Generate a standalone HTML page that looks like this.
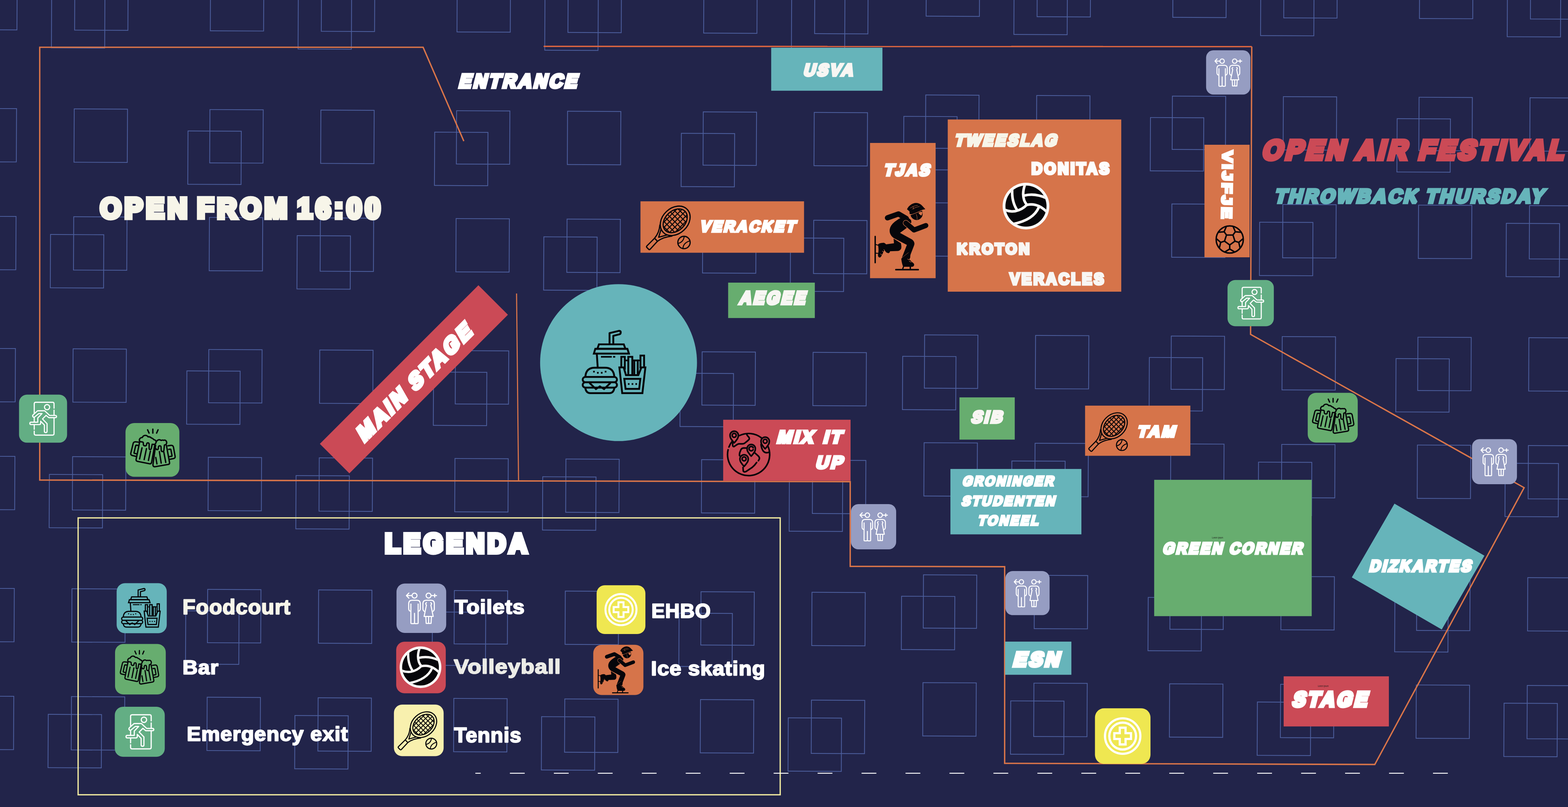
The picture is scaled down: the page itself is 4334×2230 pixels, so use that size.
<!DOCTYPE html>
<html lang="nl"><head><meta charset="utf-8"><title>Open Air Festival - Throwback Thursday</title>
<style>html,body{margin:0;padding:0;background:#22244a;}body{width:4334px;height:2230px;overflow:hidden;}svg{display:block;will-change:transform;}text{white-space:pre;}</style>
</head><body>
<svg width="4334" height="2230" viewBox="0 0 4334 2230">
<rect width="4334" height="2230" fill="#22244a"/>
<defs><symbol id="ic-toilets" viewBox="19 18.6 62.3 63.1" preserveAspectRatio="none" overflow="visible"><g fill="none" stroke="#ffffff" stroke-width="2.2" stroke-linecap="round" stroke-linejoin="round"><circle cx="36.3" cy="24.5" r="5"/><path d="M31.3,24.5 H20.2 M25,19.3 L20,24.5 L25,29.7"/><path d="M29,80 L29,41.5 M29,56.5 Q24.6,55.5 24.6,51 L24.6,41 Q24.6,33.9 31.5,33.9 L41,33.9 Q47.9,33.9 47.9,41 L47.9,51 Q47.9,55.5 43.6,56.5 M43.6,41.5 L43.6,80 Q43.6,81.3 41.5,81.3 L38.5,81.3 Q36.3,81.3 36.3,79.5 L36.3,60.3 M36.3,79.5 Q36.3,81.3 34,81.3 L31,81.3 Q29,81.3 29,80"/><circle cx="64.6" cy="24.5" r="5"/><path d="M69.6,24.5 H80.6 M76.9,21.4 V27.6"/><path d="M56.5,56.5 Q53.2,55 53.2,51 L53.2,41 Q53.2,33.9 60,33.9 L69.3,33.9 Q76.2,33.9 76.2,41 L76.2,51 Q76.2,55 73,56.5"/><path d="M60.4,38.8 Q57.3,40.5 60.3,43.7 L55.6,66.8 L73.9,66.8 L69.2,43.7 Q72.2,40.5 69,38.8"/><path d="M59,67 L59.8,80.8 L69.6,80.8 L70.4,67 M64.7,67 V80.8"/></g></symbol><symbol id="ic-exit" viewBox="21.8 14.8 56.3 70.5" preserveAspectRatio="none" overflow="visible"><g fill="none" stroke="#ffffff" stroke-width="2.35" stroke-linecap="round" stroke-linejoin="round"><path d="M31.6,39.5 V19 Q31.6,15.9 34.7,15.9 H69.7 Q72.8,15.9 72.8,19 V28.2 M72.8,32.2 V42.5 M72.8,48.5 V81 Q72.8,84.2 69.7,84.2 H34.7 Q31.6,84.2 31.6,81 V75.8 M31.6,72 V62.5 M31.6,57 V47.5"/><circle cx="58.3" cy="26" r="5.4"/><path d="M29.2,42 L38.5,33.6 H53.3 L63.8,43.3 H75.5 Q78,43.3 78,45.6 Q78,47.9 75.5,47.9 H62 L56.2,43.2 L48.8,50.6 L58.3,60.4 V76.5 Q58.3,79 55.5,79 Q52.7,79 52.7,76.5 V63.2 L45,55.3 V59.5 Q45,62.3 42,62.3 H25 Q22.5,62.3 22.5,59.8 Q22.5,57.3 25,57.3 H39 V48.5 L47.8,39.3 H41.2 L32.5,46.4 Q30.5,47.8 28.9,46 Q27.5,44 29.2,42 Z"/></g></symbol><symbol id="ic-bar" viewBox="0 0 1491 1325" preserveAspectRatio="none" overflow="visible"><g fill="none" stroke="#06060a" stroke-width="42" stroke-linecap="round" stroke-linejoin="round"><path d="M585,85 L630,185 M745,65 V185 M905,85 L860,185"/><path d="M340,465 L235,985 Q225,1035 275,1047 L650,1122 Q695,1130 707,1080 L802,560"/><path d="M318,462 L215,452 Q155,450 142,510 L72,800 Q62,855 115,868 L232,895"/><path d="M290,560 L245,555 Q225,555 220,575 L172,780 Q168,800 190,805 L248,817"/><path d="M345,440 Q320,400 345,360 Q370,320 425,318 Q450,255 515,255 Q570,255 600,300 Q660,290 700,335 Q750,345 775,385 Q840,395 845,450 Q845,500 800,530 Q760,530 725,525 L700,650 Q690,690 660,688 Q632,685 632,650 L632,525 Q630,485 595,482 Q560,485 556,520 L552,545 Q540,580 500,575 Q458,568 455,530 L455,490 Q455,462 420,455 Q380,455 345,440 Z"/><path d="M415,635 L340,975 M550,660 L480,995 M670,735 L610,1020"/><path d="M830,555 L748,1150 Q745,1205 800,1212 L1215,1142 Q1262,1130 1255,1085 L1160,560"/><path d="M1205,572 L1300,560 Q1360,555 1375,615 L1425,895 Q1432,950 1380,962 L1265,985"/><path d="M1228,682 L1272,676 Q1292,675 1297,695 L1330,870 Q1333,890 1312,893 L1255,902"/><path d="M850,455 Q870,400 930,388 Q970,385 1000,410 Q1040,390 1075,405 Q1125,385 1155,430 Q1185,480 1145,535 L1098,550 L1082,715 Q1078,750 1042,750 Q1005,748 1002,715 L995,605 Q990,572 955,572 Q920,575 916,605 L912,655 Q908,690 875,690 Q845,688 838,655"/><path d="M945,750 L1000,1100 M1080,765 L1140,1080 M835,930 L870,1125"/></g></symbol><symbol id="ic-food" viewBox="0 0 100 99.8" preserveAspectRatio="none" overflow="visible"><g fill="none" stroke="#06060a" stroke-width="2.9" stroke-linejoin="miter" stroke-linecap="butt"><path d="M43,21.2 V5.2 L57.6,1.6 Q60.3,1.6 60.3,4.2 Q60.3,6.4 58.3,7 L48.8,9.4 V21.2" stroke-linejoin="round"/><path d="M26.6,22.6 H65 L67.6,29.5 H24.2 Z"/><path d="M21,29.5 H70.6 L73,37 H18.8 Z"/><path d="M23.3,37 L24.7,58.5"/><path d="M29.7,42 H46.5 M48.4,42 H51.8" stroke-width="2.6"/><path d="M5.6,73.2 Q6.5,58.9 20,58.9 H36 Q49.500,58.9 50.4,73.2"/><path d="M17.6,65 H20.2 M23.6,66.8 H26.2 M29.6,66.8 H32.2 M35.600,65 H38.2" stroke-width="2.6"/><rect x="1.500" y="73.2" width="53" height="8.3" rx="4.15"/><rect x="1.500" y="81.5" width="53" height="8.3" rx="4.15"/><path d="M12,82.5 L22,92 L28,88 L34.500,92 L44.500,82.5" /><path d="M5.500,89.8 Q6.5,98.4 13.500,98.4 H42.500 Q49.500,98.4 50.500,89.8"/><path d="M64.8,58.4 H58.2 L62.6,98.4 H93.800 L98.400,58.4 H92.3 L87.500,70.4 H68.4 Z"/><path d="M65.8,76.2 H90.6 L88.8,91.8 H67.8 Z"/><path d="M71.400,84.2 H73.900 M77.200,84.2 H79.700 M83.000,84.2 H85.500" stroke-width="2.6"/><path d="M61.2,58 V42 H66.600 V62"/><path d="M72,69 V42 H78.2 V69"/><path d="M81.200,69 V47.600 H86.600 V69"/><path d="M90.800,60 V40 H96.400 V58"/><path d="M66.600,47.600 H72 M78.2,47.600 H81.200 M86.600,47.600 H90.800" stroke-width="2.4"/></g></symbol><symbol id="ic-tennis" viewBox="0 0 100 100" preserveAspectRatio="none" overflow="visible"><defs><clipPath id="tn-clip"><ellipse cx="0" cy="0" rx="30.7" ry="22.2"/></clipPath></defs><g fill="none" stroke="#06060a" stroke-width="2.7" stroke-linecap="round" stroke-linejoin="round"><g transform="translate(65.2,34.2) rotate(-43.5)"><ellipse cx="0" cy="0" rx="30.7" ry="22.2"/><g clip-path="url(#tn-clip)" stroke-width="2.2"><g transform="rotate(88.5)"><path d="M-40,-31.80 H40"/><path d="M-40,-23.35 H40"/><path d="M-40,-14.90 H40"/><path d="M-40,-6.45 H40"/><path d="M-40,2.00 H40"/><path d="M-40,10.45 H40"/><path d="M-40,18.90 H40"/><path d="M-40,27.35 H40"/><path d="M-40,35.80 H40"/></g><g transform="rotate(-1.5)"><path d="M-40,-32.80 H40"/><path d="M-40,-24.35 H40"/><path d="M-40,-15.90 H40"/><path d="M-40,-7.45 H40"/><path d="M-40,1.00 H40"/><path d="M-40,9.45 H40"/><path d="M-40,17.90 H40"/><path d="M-40,26.35 H40"/><path d="M-40,34.80 H40"/></g></g><ellipse cx="0" cy="0" rx="37.2" ry="28.6"/></g><path d="M33.6,52.6 L28.2,71 L46.6,65.9"/><path d="M30.9,43.5 Q29.5,61 19,73.200"/><path d="M58,68.3 Q38,70.500 25.500,80"/><path d="M19,73.200 L1.700,90.500 Q0.300,92.300 1.700,93.800 L5.800,98 Q7.300,99.300 9,98 L25.500,80"/><path d="M19,73.200 L25.500,80"/><circle cx="84.900" cy="82.700" r="13.800"/><path d="M71.300,84.800 Q83.500,82.500 85.500,69" stroke-width="2.3"/><path d="M82.500,96.200 Q83,84 97.600,79.200" stroke-width="2.3"/></g></symbol><symbol id="ic-volley" viewBox="0 0 100 100" preserveAspectRatio="none" overflow="visible"><defs><clipPath id="vb-clip"><circle cx="50" cy="50" r="44"/></clipPath></defs><circle cx="50" cy="50" r="50" fill="#fcfaf8"/><circle cx="50" cy="50" r="44" fill="#06060a"/><g clip-path="url(#vb-clip)" fill="none" stroke="#fcfaf8" stroke-width="5.6" stroke-linecap="butt"><path d="M48.500,2 Q41,22 46,37 Q48.500,43.500 52,47"/><path d="M20.500,14 Q19,40 31,58.500"/><path d="M52,47 Q42,58 26.500,61 Q14,62.500 2,57"/><path d="M46,27.500 Q70,21.500 96,34"/><path d="M52,47.500 Q76,42 97,65"/><path d="M77.500,52.500 Q66,80 22,88.500"/></g></symbol><symbol id="ic-football" viewBox="0 0 100 100" preserveAspectRatio="none" overflow="visible"><g fill="none" stroke="#06060a" stroke-width="5" stroke-linejoin="round" stroke-linecap="round"><circle cx="50" cy="50" r="47"/><path d="M61.2,34.6 L68.1,55.9 L50.0,69.0 L31.9,55.9 L38.8,34.6 Z"/><path d="M61.2,34.6 L69.4,23.3"/><path d="M69.4,23.3 L61.9,5.6"/><path d="M69.4,23.3 L88.6,24.9"/><path d="M68.1,55.9 L81.4,60.2"/><path d="M81.4,60.2 L95.9,47.6"/><path d="M81.4,60.2 L85.7,78.9"/><path d="M50.0,69.0 L50.0,83.0"/><path d="M50.0,83.0 L66.5,92.9"/><path d="M50.0,83.0 L33.5,92.9"/><path d="M31.9,55.9 L18.6,60.2"/><path d="M18.6,60.2 L14.3,78.9"/><path d="M18.6,60.2 L4.1,47.6"/><path d="M38.8,34.6 L30.6,23.3"/><path d="M30.6,23.3 L11.4,24.9"/><path d="M30.6,23.3 L38.1,5.6"/></g></symbol><symbol id="ic-ehbo" viewBox="-1 -1 102 102" preserveAspectRatio="none" overflow="visible"><g fill="none" stroke="#ffffff" stroke-width="6"><circle cx="50" cy="50" r="48"/><circle cx="50" cy="50" r="36.3"/><path d="M42.15,27.4 H57.85 V42.15 H72.6 V57.85 H57.85 V72.6 H42.15 V57.85 H27.4 V42.15 H42.15 Z"/></g></symbol><symbol id="ic-skater" viewBox="0 0 1073 1325" preserveAspectRatio="none" overflow="visible"><g fill="#06060a" stroke="none"><path d="M613,180 Q625,140 670,105 Q720,68 775,68 Q830,70 875,115 L932,176 L880,188 Q800,225 705,268 L658,262 L655,215 Z"/><path d="M672,282 Q760,250 872,200 Q895,250 878,300 Q850,360 780,368 Q700,360 672,282 Z"/></g><path d="M812,240 Q850,215 878,225 Q885,260 862,288 Q830,275 812,240 Z" fill="#d6744a"/><path d="M668,278 Q770,245 875,198 M772,262 Q795,310 788,362 M668,160 Q720,120 800,110 M700,178 Q750,145 830,130 M716,130 L730,180" fill="none" stroke="#d6744a" stroke-width="6"/><g fill="none" stroke="#06060a" stroke-linecap="round" stroke-linejoin="round"><path d="M272,328 L465,260 L600,340" stroke-width="92"/></g><path d="M470,345 L560,305 Q640,320 680,365 Q700,410 670,440 L600,510 L490,590 L700,705 Q760,750 735,810 L665,990 L520,1030 L610,800 L380,680 Q300,620 310,530 Q320,460 400,395 Z" fill="#06060a"/><path d="M378,690 L505,770 Q520,830 510,865 Q495,900 455,905 L320,910 L245,790 L385,772 Z" fill="#06060a"/><path d="M592,418 L735,540 L940,462" fill="none" stroke="#d6744a" stroke-width="104" stroke-linecap="round" stroke-linejoin="round"/><path d="M592,418 L735,540 L940,462" fill="none" stroke="#06060a" stroke-width="88" stroke-linecap="round" stroke-linejoin="round"/><g fill="#06060a" stroke="none"><path d="M512,1040 L640,938 Q665,935 672,960 L668,1020 L652,1052 L700,1100 Q745,1125 735,1160 Q720,1185 690,1182 L545,1182 Q520,1120 512,1040 Z"/><path d="M540,1178 L562,1178 L548,1222 L524,1222 Z M658,1178 L682,1178 L682,1222 L658,1222 Z"/><rect x="405" y="1218" width="416" height="27" rx="12"/><path d="M105,795 Q120,772 160,766 L205,762 Q235,770 250,795 L320,890 Q318,940 285,945 L250,930 L218,890 L165,995 Q140,1035 115,1010 Q100,990 108,950 Q125,880 105,795 Z"/><path d="M62,782 L110,798 L108,812 L62,800 Z M62,935 L112,940 L112,955 L62,952 Z"/><rect x="45" y="640" width="24" height="482" rx="11"/></g><path d="M150,955 L182,982 M178,905 L210,930 M205,880 L222,893 M622,1045 L655,1065 M648,1085 L690,1102" stroke="#d6744a" stroke-width="8" fill="none"/><path d="M518,1028 L640,932" stroke="#d6744a" stroke-width="5" fill="none"/></symbol><symbol id="ic-globe" viewBox="0 0 1279 1325" preserveAspectRatio="none" overflow="visible"><g fill="none" stroke="#06060a" stroke-width="40" stroke-linecap="round" stroke-linejoin="round"><path d="M400.5,216.0 A532,532 0 0 1 950.7,269.0 M1122.1,488.0 A532,532 0 1 1 114.1,573.5 M135.3,504.3 A532,532 0 0 1 215.1,364.5"/><path d="M585,185 Q592,210 615,232 Q660,275 648,305 Q640,325 530,410 Q505,425 470,425 L385,425 Q350,432 270,490 Q230,505 230,460 L230,400"/><path d="M565,530 L500,530 Q462,534 440,568 L410,640 Q395,690 405,725"/><path d="M790,655 L878,733 Q915,770 902,808 L880,850"/><path d="M835,895 Q790,962 722,1020 L572,1120 Q520,1150 497,1112 L490,1020"/><path d="M945,440 Q955,540 1000,605 Q1060,675 1150,635"/><path d="M268,400 Q228,360 183,290 Q163,255 163,210 A105,105 0 1 1 373,210 Q373,255 353,290 Q308,360 268,400 Z" fill="#cb4a56"/><circle cx="268" cy="210" r="50"/><path d="M1050,550 Q1010,510 965,440 Q945,405 945,360 A105,105 0 1 1 1155,360 Q1155,405 1135,440 Q1090,510 1050,550 Z" fill="#cb4a56"/><circle cx="1050" cy="360" r="50"/><path d="M698,735 Q658,695 613,625 Q593,590 593,545 A105,105 0 1 1 803,545 Q803,590 783,625 Q738,695 698,735 Z" fill="#cb4a56"/><path d="M748,523 A55,55 0 1 0 748,570"/><path d="M518,995 Q478,955 433,885 Q413,850 413,805 A105,105 0 1 1 623,805 Q623,850 603,885 Q558,955 518,995 Z" fill="#cb4a56"/><circle cx="518" cy="805" r="50"/></g></symbol></defs>
<clipPath id="cl1"><rect x="0" y="0" width="2450" height="2230"/></clipPath>
<g clip-path="url(#cl1)"><g transform="translate(0,0) rotate(0.27)" fill="none" stroke="#4d5f9e" stroke-width="2.2">
<rect x="-100.1" y="-65.0" width="147.3" height="147.3"/>
<rect x="-100.1" y="300.0" width="147.3" height="147.3"/>
<rect x="-160.4" y="359.5" width="147.3" height="147.3"/>
<rect x="-100.1" y="598.0" width="147.3" height="147.3"/>
<rect x="-100.1" y="963.0" width="147.3" height="147.3"/>
<rect x="-160.4" y="1022.5" width="147.3" height="147.3"/>
<rect x="-100.1" y="1261.0" width="147.3" height="147.3"/>
<rect x="-100.1" y="1626.0" width="147.3" height="147.3"/>
<rect x="-160.4" y="1685.5" width="147.3" height="147.3"/>
<rect x="-100.1" y="1924.0" width="147.3" height="147.3"/>
<rect x="206.6" y="-65.0" width="147.3" height="147.3"/>
<rect x="581.7" y="-65.0" width="147.3" height="147.3"/>
<rect x="142.7" y="-15.7" width="147.3" height="147.3"/>
<rect x="206.6" y="300.0" width="147.3" height="147.3"/>
<rect x="581.7" y="300.0" width="147.3" height="147.3"/>
<rect x="521.4" y="359.5" width="147.3" height="147.3"/>
<rect x="206.6" y="598.0" width="147.3" height="147.3"/>
<rect x="581.7" y="598.0" width="147.3" height="147.3"/>
<rect x="142.7" y="647.3" width="147.3" height="147.3"/>
<rect x="206.6" y="963.0" width="147.3" height="147.3"/>
<rect x="581.7" y="963.0" width="147.3" height="147.3"/>
<rect x="521.4" y="1022.5" width="147.3" height="147.3"/>
<rect x="206.6" y="1261.0" width="147.3" height="147.3"/>
<rect x="581.7" y="1261.0" width="147.3" height="147.3"/>
<rect x="142.7" y="1310.3" width="147.3" height="147.3"/>
<rect x="206.6" y="1626.0" width="147.3" height="147.3"/>
<rect x="581.7" y="1626.0" width="147.3" height="147.3"/>
<rect x="521.4" y="1685.5" width="147.3" height="147.3"/>
<rect x="206.6" y="1924.0" width="147.3" height="147.3"/>
<rect x="581.7" y="1924.0" width="147.3" height="147.3"/>
<rect x="142.7" y="1973.3" width="147.3" height="147.3"/>
<rect x="888.4" y="-65.0" width="147.3" height="147.3"/>
<rect x="1263.5" y="-65.0" width="147.3" height="147.3"/>
<rect x="824.5" y="-15.7" width="147.3" height="147.3"/>
<rect x="888.4" y="300.0" width="147.3" height="147.3"/>
<rect x="1263.5" y="300.0" width="147.3" height="147.3"/>
<rect x="1203.2" y="359.5" width="147.3" height="147.3"/>
<rect x="888.4" y="598.0" width="147.3" height="147.3"/>
<rect x="1263.5" y="598.0" width="147.3" height="147.3"/>
<rect x="824.5" y="647.3" width="147.3" height="147.3"/>
<rect x="888.4" y="963.0" width="147.3" height="147.3"/>
<rect x="1263.5" y="963.0" width="147.3" height="147.3"/>
<rect x="1203.2" y="1022.5" width="147.3" height="147.3"/>
<rect x="888.4" y="1261.0" width="147.3" height="147.3"/>
<rect x="1263.5" y="1261.0" width="147.3" height="147.3"/>
<rect x="824.5" y="1310.3" width="147.3" height="147.3"/>
<rect x="888.4" y="1626.0" width="147.3" height="147.3"/>
<rect x="1263.5" y="1626.0" width="147.3" height="147.3"/>
<rect x="1203.2" y="1685.5" width="147.3" height="147.3"/>
<rect x="888.4" y="1924.0" width="147.3" height="147.3"/>
<rect x="1263.5" y="1924.0" width="147.3" height="147.3"/>
<rect x="824.5" y="1973.3" width="147.3" height="147.3"/>
<rect x="1570.2" y="-65.0" width="147.3" height="147.3"/>
<rect x="1945.3" y="-65.0" width="147.3" height="147.3"/>
<rect x="1506.3" y="-15.7" width="147.3" height="147.3"/>
<rect x="1570.2" y="300.0" width="147.3" height="147.3"/>
<rect x="1945.3" y="300.0" width="147.3" height="147.3"/>
<rect x="1885.0" y="359.5" width="147.3" height="147.3"/>
<rect x="1570.2" y="598.0" width="147.3" height="147.3"/>
<rect x="1945.3" y="598.0" width="147.3" height="147.3"/>
<rect x="1506.3" y="647.3" width="147.3" height="147.3"/>
<rect x="1570.2" y="963.0" width="147.3" height="147.3"/>
<rect x="1945.3" y="963.0" width="147.3" height="147.3"/>
<rect x="1885.0" y="1022.5" width="147.3" height="147.3"/>
<rect x="1570.2" y="1261.0" width="147.3" height="147.3"/>
<rect x="1945.3" y="1261.0" width="147.3" height="147.3"/>
<rect x="1506.3" y="1310.3" width="147.3" height="147.3"/>
<rect x="1570.2" y="1626.0" width="147.3" height="147.3"/>
<rect x="1945.3" y="1626.0" width="147.3" height="147.3"/>
<rect x="1885.0" y="1685.5" width="147.3" height="147.3"/>
<rect x="1570.2" y="1924.0" width="147.3" height="147.3"/>
<rect x="1945.3" y="1924.0" width="147.3" height="147.3"/>
<rect x="1506.3" y="1973.3" width="147.3" height="147.3"/>
<rect x="2252.0" y="-65.0" width="147.3" height="147.3"/>
<rect x="2188.1" y="-15.7" width="147.3" height="147.3"/>
<rect x="2252.0" y="300.0" width="147.3" height="147.3"/>
<rect x="2252.0" y="598.0" width="147.3" height="147.3"/>
<rect x="2188.1" y="647.3" width="147.3" height="147.3"/>
<rect x="2252.0" y="963.0" width="147.3" height="147.3"/>
<rect x="2252.0" y="1261.0" width="147.3" height="147.3"/>
<rect x="2188.1" y="1310.3" width="147.3" height="147.3"/>
<rect x="2252.0" y="1626.0" width="147.3" height="147.3"/>
<rect x="2252.0" y="1924.0" width="147.3" height="147.3"/>
<rect x="2188.1" y="1973.3" width="147.3" height="147.3"/>
</g></g>
<clipPath id="cl2"><rect x="2450" y="0" width="1884" height="2230"/></clipPath>
<g clip-path="url(#cl2)"><g transform="translate(1978.5,-40.4) rotate(0.27)" fill="none" stroke="#4d5f9e" stroke-width="2.2">
<rect x="581.7" y="-65.0" width="147.3" height="147.3"/>
<rect x="581.7" y="300.0" width="147.3" height="147.3"/>
<rect x="521.4" y="359.5" width="147.3" height="147.3"/>
<rect x="581.7" y="598.0" width="147.3" height="147.3"/>
<rect x="581.7" y="963.0" width="147.3" height="147.3"/>
<rect x="521.4" y="1022.5" width="147.3" height="147.3"/>
<rect x="581.7" y="1261.0" width="147.3" height="147.3"/>
<rect x="581.7" y="1626.0" width="147.3" height="147.3"/>
<rect x="521.4" y="1685.5" width="147.3" height="147.3"/>
<rect x="581.7" y="1924.0" width="147.3" height="147.3"/>
<rect x="581.7" y="2289.0" width="147.3" height="147.3"/>
<rect x="888.4" y="-65.0" width="147.3" height="147.3"/>
<rect x="1263.5" y="-65.0" width="147.3" height="147.3"/>
<rect x="824.5" y="-15.7" width="147.3" height="147.3"/>
<rect x="888.4" y="300.0" width="147.3" height="147.3"/>
<rect x="1263.5" y="300.0" width="147.3" height="147.3"/>
<rect x="1203.2" y="359.5" width="147.3" height="147.3"/>
<rect x="888.4" y="598.0" width="147.3" height="147.3"/>
<rect x="1263.5" y="598.0" width="147.3" height="147.3"/>
<rect x="824.5" y="647.3" width="147.3" height="147.3"/>
<rect x="888.4" y="963.0" width="147.3" height="147.3"/>
<rect x="1263.5" y="963.0" width="147.3" height="147.3"/>
<rect x="1203.2" y="1022.5" width="147.3" height="147.3"/>
<rect x="888.4" y="1261.0" width="147.3" height="147.3"/>
<rect x="1263.5" y="1261.0" width="147.3" height="147.3"/>
<rect x="824.5" y="1310.3" width="147.3" height="147.3"/>
<rect x="888.4" y="1626.0" width="147.3" height="147.3"/>
<rect x="1263.5" y="1626.0" width="147.3" height="147.3"/>
<rect x="1203.2" y="1685.5" width="147.3" height="147.3"/>
<rect x="888.4" y="1924.0" width="147.3" height="147.3"/>
<rect x="1263.5" y="1924.0" width="147.3" height="147.3"/>
<rect x="824.5" y="1973.3" width="147.3" height="147.3"/>
<rect x="888.4" y="2289.0" width="147.3" height="147.3"/>
<rect x="1263.5" y="2289.0" width="147.3" height="147.3"/>
<rect x="1570.2" y="-65.0" width="147.3" height="147.3"/>
<rect x="1945.3" y="-65.0" width="147.3" height="147.3"/>
<rect x="1506.3" y="-15.7" width="147.3" height="147.3"/>
<rect x="1570.2" y="300.0" width="147.3" height="147.3"/>
<rect x="1945.3" y="300.0" width="147.3" height="147.3"/>
<rect x="1885.0" y="359.5" width="147.3" height="147.3"/>
<rect x="1570.2" y="598.0" width="147.3" height="147.3"/>
<rect x="1945.3" y="598.0" width="147.3" height="147.3"/>
<rect x="1506.3" y="647.3" width="147.3" height="147.3"/>
<rect x="1570.2" y="963.0" width="147.3" height="147.3"/>
<rect x="1945.3" y="963.0" width="147.3" height="147.3"/>
<rect x="1885.0" y="1022.5" width="147.3" height="147.3"/>
<rect x="1570.2" y="1261.0" width="147.3" height="147.3"/>
<rect x="1945.3" y="1261.0" width="147.3" height="147.3"/>
<rect x="1506.3" y="1310.3" width="147.3" height="147.3"/>
<rect x="1570.2" y="1626.0" width="147.3" height="147.3"/>
<rect x="1945.3" y="1626.0" width="147.3" height="147.3"/>
<rect x="1885.0" y="1685.5" width="147.3" height="147.3"/>
<rect x="1570.2" y="1924.0" width="147.3" height="147.3"/>
<rect x="1945.3" y="1924.0" width="147.3" height="147.3"/>
<rect x="1506.3" y="1973.3" width="147.3" height="147.3"/>
<rect x="1570.2" y="2289.0" width="147.3" height="147.3"/>
<rect x="1945.3" y="2289.0" width="147.3" height="147.3"/>
<rect x="2252.0" y="-65.0" width="147.3" height="147.3"/>
<rect x="2188.1" y="-15.7" width="147.3" height="147.3"/>
<rect x="2252.0" y="300.0" width="147.3" height="147.3"/>
<rect x="2252.0" y="598.0" width="147.3" height="147.3"/>
<rect x="2188.1" y="647.3" width="147.3" height="147.3"/>
<rect x="2252.0" y="963.0" width="147.3" height="147.3"/>
<rect x="2252.0" y="1261.0" width="147.3" height="147.3"/>
<rect x="2188.1" y="1310.3" width="147.3" height="147.3"/>
<rect x="2252.0" y="1626.0" width="147.3" height="147.3"/>
<rect x="2252.0" y="1924.0" width="147.3" height="147.3"/>
<rect x="2188.1" y="1973.3" width="147.3" height="147.3"/>
<rect x="2252.0" y="2289.0" width="147.3" height="147.3"/>
</g></g>
<g fill="none" stroke="#da7549" stroke-width="3.8" stroke-linejoin="miter">
<path d="M1282,390 L1169.5,130.7 L109.8,130.7 L109.8,1326.5 L1432,1329 L2350,1331 L2350,1565 L2776.9,1566 L2776.9,2109.3 L3800,2112.5 L4212.7,1347.7 L3456.6,924 L3459.9,128.8"/>
<path d="M1502.6,128.1 L3460,128.8" stroke="#dc6540" stroke-width="3.9"/>
<path d="M1427.8,811 L1433.3,1329" stroke-width="3"/>
</g>
<rect x="2131.6" y="131.8" width="307.5" height="118.9" fill="#66b4ba"/>
<rect x="1770.3" y="556.3" width="452.1" height="142.1" fill="#d6744a"/>
<rect x="2404.8" y="395.0" width="181.3" height="373.7" fill="#d6744a"/>
<rect x="2619.6" y="330.2" width="479.6" height="475.8" fill="#d6744a"/>
<rect x="3329.2" y="400.0" width="124.8" height="311.0" fill="#d6744a"/>
<rect x="2012.6" y="781.0" width="239.6" height="97.8" fill="#67ad6f"/>
<g transform="translate(1144.0,1048.1) rotate(-45)"><rect x="-309.9" y="-57.7" width="619.8" height="115.4" fill="#cb4a56"/></g>
<circle cx="1709.7" cy="1002" r="216.8" fill="#66b4ba"/>
<rect x="1998.9" y="1159.9" width="352.1" height="168.6" fill="#cb4a56"/>
<rect x="2652.0" y="1098.1" width="152.8" height="116.7" fill="#67ad6f"/>
<rect x="2999.2" y="1120.9" width="291.0" height="138.6" fill="#d6744a"/>
<rect x="2627.0" y="1295.9" width="362.0" height="180.7" fill="#66b4ba"/>
<rect x="3190.2" y="1325.9" width="435.4" height="376.7" fill="#67ad6f"/>
<g transform="translate(3919.7,1565.6) rotate(30.05)"><rect x="-143.6" y="-117.75" width="287.2" height="235.5" fill="#66b4ba"/></g>
<rect x="2778.1" y="1773.0" width="183.2" height="91.6" fill="#66b4ba"/>
<rect x="3548.1" y="1868.9" width="290.8" height="138.5" fill="#cb4a56"/>
<rect x="215.9" y="1431.1" width="1940.6" height="765.0999999999999" fill="none" stroke="#f3eca0" stroke-width="3.5"/>
<path d="M1313.9,2136.8 H1328.7" stroke="#fff" stroke-width="2.5" fill="none"/>
<path d="M1409.4,2136.8 H4002.5" stroke="#fff" stroke-width="2.5" stroke-dasharray="40.9 80.6" fill="none"/>
<rect x="3333.7" y="139.0" width="122.3" height="122.2" fill="#969dc2" rx="20.2"/>
<use href="#ic-toilets" x="3356.9" y="161.7" width="76.1" height="77.1"/>
<rect x="2352.0" y="1393.0" width="125.0" height="125.0" fill="#969dc2" rx="20.6"/>
<use href="#ic-toilets" x="2375.8" y="1416.2" width="77.8" height="78.9"/>
<rect x="2778.9" y="1578.1" width="122.2" height="121.7" fill="#969dc2" rx="20.2"/>
<use href="#ic-toilets" x="2802.1" y="1600.7" width="76.1" height="76.8"/>
<rect x="4068.7" y="1213.4" width="124.2" height="124.6" fill="#969dc2" rx="20.5"/>
<use href="#ic-toilets" x="4092.3" y="1236.6" width="77.3" height="78.6"/>
<rect x="52.6" y="1090.5" width="132.8" height="132.8" fill="#63ae84" rx="21.9"/>
<use href="#ic-exit" x="81.6" y="1110.2" width="74.8" height="93.6"/>
<rect x="3392.9" y="773.8" width="128.0" height="127.6" fill="#63ae84" rx="21.1"/>
<use href="#ic-exit" x="3420.8" y="792.7" width="72.1" height="90.0"/>
<rect x="346.9" y="1169.0" width="148.9" height="148.6" fill="#67ad6f" rx="24.6"/>
<use href="#ic-bar" x="355.0" y="1180.0" width="135.0" height="120.0"/>
<rect x="3614.6" y="1085.4" width="138.2" height="137.7" fill="#67ad6f" rx="22.8"/>
<use href="#ic-bar" x="3622.1" y="1095.6" width="125.3" height="111.2"/>
<rect x="3026.5" y="1957.3" width="153.5" height="153.5" fill="#efe751" rx="25.3"/>
<use href="#ic-ehbo" x="3051.2" y="1981.9" width="103.8" height="104.2"/>
<use href="#ic-food" x="1607.9" y="911.3" width="178.8" height="177.6"/>
<use href="#ic-tennis" x="1785.8" y="568.0" width="123.4" height="123.4"/>
<use href="#ic-tennis" x="3008.4" y="1139.3" width="109.0" height="109.4"/>
<use href="#ic-skater" x="2410.0" y="550.0" width="170.0" height="210.0"/>
<use href="#ic-volley" x="2771.3" y="505.0" width="129.1" height="129.0"/>
<use href="#ic-globe" x="2000.0" y="1180.0" width="140.0" height="145.0"/>
<use href="#ic-football" x="3359.1" y="621.8" width="79.8" height="79.8"/>
<rect x="322.4" y="1611.6" width="138.5" height="138.1" fill="#66b4ba" rx="22.9"/>
<use href="#ic-food" x="334.6" y="1624.6" width="109.8" height="109.8"/>
<rect x="318.0" y="1779.6" width="140.2" height="139.3" fill="#67ad6f" rx="23.1"/>
<use href="#ic-bar" x="327.1" y="1792.4" width="116.5" height="107.0"/>
<rect x="317.3" y="1953.0" width="138.1" height="138.2" fill="#63ae84" rx="22.8"/>
<use href="#ic-exit" x="347.4" y="1973.5" width="77.8" height="97.4"/>
<rect x="1095.9" y="1612.4" width="137.4" height="136.5" fill="#969dc2" rx="22.7"/>
<use href="#ic-toilets" x="1122.0" y="1637.8" width="85.5" height="86.1"/>
<rect x="1095.1" y="1773.3" width="137.0" height="142.4" fill="#cb4a56" rx="22.6"/>
<use href="#ic-volley" x="1104.6" y="1786.3" width="115.4" height="114.9"/>
<rect x="1088.8" y="1947.1" width="137.4" height="142.5" fill="#f8f0ae" rx="22.7"/>
<use href="#ic-tennis" x="1099.4" y="1965.6" width="109.1" height="107.9"/>
<rect x="1649.1" y="1617.2" width="134.8" height="134.8" fill="#efe751" rx="22.2"/>
<use href="#ic-ehbo" x="1670.8" y="1638.8" width="91.2" height="91.5"/>
<rect x="1639.8" y="1781.8" width="138.6" height="138.6" fill="#d6744a" rx="22.9"/>
<use href="#ic-skater" x="1647.2" y="1778.7" width="117.9" height="146.2"/>
<text transform="translate(277.18,601.69) scale(0.7446,0.7765)" font-family="'Liberation Sans', sans-serif" font-weight="bold" font-size="100" fill="#f7f5e9" stroke="#f7f5e9" stroke-width="16" stroke-linejoin="miter" stroke-miterlimit="2.2" word-spacing="-16" letter-spacing="13">OPEN FROM 16:00</text>
<text transform="translate(1266.61,242.17) scale(0.5045,0.5282) skewX(-15)" font-family="'Liberation Sans', sans-serif" font-weight="bold" font-size="100" fill="#ffffff" stroke="#ffffff" stroke-width="16" stroke-linejoin="miter" stroke-miterlimit="2.2" word-spacing="-6" letter-spacing="13">ENTRANCE</text>
<text transform="translate(2219.48,209.32) scale(0.4412,0.4600) skewX(-15)" font-family="'Liberation Sans', sans-serif" font-weight="bold" font-size="100" fill="#f8f6f3" stroke="#f8f6f3" stroke-width="16" stroke-linejoin="miter" stroke-miterlimit="2.2" word-spacing="-6" letter-spacing="13">USVA</text>
<text transform="translate(1933.81,639.80) scale(0.4088,0.4247) skewX(-15)" font-family="'Liberation Sans', sans-serif" font-weight="bold" font-size="100" fill="#ffffff" stroke="#ffffff" stroke-width="16" stroke-linejoin="miter" stroke-miterlimit="2.2" word-spacing="-6" letter-spacing="13">VERACKET</text>
<text transform="translate(2442.02,485.34) scale(0.4253,0.4447) skewX(-15)" font-family="'Liberation Sans', sans-serif" font-weight="bold" font-size="100" fill="#fdfcfa" stroke="#fdfcfa" stroke-width="16" stroke-linejoin="miter" stroke-miterlimit="2.2" word-spacing="-6" letter-spacing="13">TJAS</text>
<text transform="translate(2637.41,403.18) scale(0.4278,0.4529) skewX(-15)" font-family="'Liberation Sans', sans-serif" font-weight="bold" font-size="100" fill="#f7f5e9" stroke="#f7f5e9" stroke-width="16" stroke-linejoin="miter" stroke-miterlimit="2.2" word-spacing="-6" letter-spacing="13">TWEESLAG</text>
<text transform="translate(2851.31,481.35) scale(0.4125,0.4435)" font-family="'Liberation Sans', sans-serif" font-weight="bold" font-size="100" fill="#fdfcfb" stroke="#fdfcfb" stroke-width="16" stroke-linejoin="miter" stroke-miterlimit="2.2" word-spacing="-6" letter-spacing="13">DONITAS</text>
<text transform="translate(2644.90,702.26) scale(0.4038,0.4306)" font-family="'Liberation Sans', sans-serif" font-weight="bold" font-size="100" fill="#f8f6f3" stroke="#f8f6f3" stroke-width="16" stroke-linejoin="miter" stroke-miterlimit="2.2" word-spacing="-6" letter-spacing="13">KROTON</text>
<text transform="translate(2791.29,786.25) scale(0.4086,0.4435)" font-family="'Liberation Sans', sans-serif" font-weight="bold" font-size="100" fill="#f8f6f3" stroke="#f8f6f3" stroke-width="16" stroke-linejoin="miter" stroke-miterlimit="2.2" word-spacing="-6" letter-spacing="13">VERACLES</text>
<text transform="rotate(91.0,3376.8,411.2) translate(3381.97,408.04) scale(0.4696,0.3953)" font-family="'Liberation Sans', sans-serif" font-weight="bold" font-size="100" fill="#ffffff" stroke="#ffffff" stroke-width="16" stroke-linejoin="miter" stroke-miterlimit="2.2" word-spacing="-6" letter-spacing="13">VIJFJE</text>
<text transform="translate(3486.68,439.92) scale(0.7059,0.7471) skewX(-15)" font-family="'Liberation Sans', sans-serif" font-weight="bold" font-size="100" fill="#cb4a56" stroke="#cb4a56" stroke-width="16" stroke-linejoin="miter" stroke-miterlimit="2.2" word-spacing="-6" letter-spacing="13">OPEN AIR FESTIVAL</text>
<text transform="translate(3521.93,559.78) scale(0.5101,0.5271) skewX(-15)" font-family="'Liberation Sans', sans-serif" font-weight="bold" font-size="100" fill="#66b4ba" stroke="#66b4ba" stroke-width="16" stroke-linejoin="miter" stroke-miterlimit="2.2" word-spacing="-6" letter-spacing="13">THROWBACK THURSDAY</text>
<text transform="translate(2042.08,840.34) scale(0.4526,0.4953) skewX(-15)" font-family="'Liberation Sans', sans-serif" font-weight="bold" font-size="100" fill="#f8f6f3" stroke="#f8f6f3" stroke-width="16" stroke-linejoin="miter" stroke-miterlimit="2.2" word-spacing="-6" letter-spacing="13">AEGEE</text>
<text transform="rotate(-45,1144.0,1048.1) translate(922.05,1074.14) scale(0.5832,0.5824) skewX(-15)" font-family="'Liberation Sans', sans-serif" font-weight="bold" font-size="100" fill="#ffffff" stroke="#ffffff" stroke-width="16" stroke-linejoin="miter" stroke-miterlimit="2.2" word-spacing="-6" letter-spacing="13">MAIN STAGE</text>
<text transform="translate(2146.06,1224.04) scale(0.4859,0.4824) skewX(-15)" font-family="'Liberation Sans', sans-serif" font-weight="bold" font-size="100" fill="#ffffff" stroke="#ffffff" stroke-width="16" stroke-linejoin="miter" stroke-miterlimit="2.2" word-spacing="6" letter-spacing="13">MIX IT</text>
<text transform="translate(2253.36,1294.39) scale(0.4814,0.4765) skewX(-15)" font-family="'Liberation Sans', sans-serif" font-weight="bold" font-size="100" fill="#ffffff" stroke="#ffffff" stroke-width="16" stroke-linejoin="miter" stroke-miterlimit="2.2" word-spacing="-6" letter-spacing="13">UP</text>
<text transform="translate(2683.54,1167.63) scale(0.4418,0.4588) skewX(-15)" font-family="'Liberation Sans', sans-serif" font-weight="bold" font-size="100" fill="#f8f6f3" stroke="#f8f6f3" stroke-width="16" stroke-linejoin="miter" stroke-miterlimit="2.2" word-spacing="-6" letter-spacing="13">SIB</text>
<text transform="translate(3142.21,1207.17) scale(0.4416,0.4282) skewX(-15)" font-family="'Liberation Sans', sans-serif" font-weight="bold" font-size="100" fill="#ffffff" stroke="#ffffff" stroke-width="16" stroke-linejoin="miter" stroke-miterlimit="2.2" word-spacing="-6" letter-spacing="13">TAM</text>
<text transform="translate(2659.15,1341.72) scale(0.3486,0.3729) skewX(-15)" font-family="'Liberation Sans', sans-serif" font-weight="bold" font-size="100" fill="#ffffff" stroke="#ffffff" stroke-width="16" stroke-linejoin="miter" stroke-miterlimit="2.2" word-spacing="-6" letter-spacing="13">GRONINGER</text>
<text transform="translate(2656.76,1396.62) scale(0.3596,0.3729) skewX(-15)" font-family="'Liberation Sans', sans-serif" font-weight="bold" font-size="100" fill="#ffffff" stroke="#ffffff" stroke-width="16" stroke-linejoin="miter" stroke-miterlimit="2.2" word-spacing="-6" letter-spacing="13">STUDENTEN</text>
<text transform="translate(2702.11,1451.12) scale(0.3561,0.3729) skewX(-15)" font-family="'Liberation Sans', sans-serif" font-weight="bold" font-size="100" fill="#ffffff" stroke="#ffffff" stroke-width="16" stroke-linejoin="miter" stroke-miterlimit="2.2" word-spacing="-6" letter-spacing="13">TONEEL</text>
<text transform="translate(3212.79,1530.03) scale(0.4041,0.4341) skewX(-15)" font-family="'Liberation Sans', sans-serif" font-weight="bold" font-size="100" fill="#ffffff" stroke="#ffffff" stroke-width="16" stroke-linejoin="miter" stroke-miterlimit="2.2" word-spacing="-6" letter-spacing="13">GREEN CORNER</text>
<text transform="translate(3783.45,1578.95) scale(0.4157,0.4435) skewX(-15)" font-family="'Liberation Sans', sans-serif" font-weight="bold" font-size="100" fill="#ffffff" stroke="#ffffff" stroke-width="16" stroke-linejoin="miter" stroke-miterlimit="2.2" word-spacing="-6" letter-spacing="13">DIZKARTES</text>
<text transform="translate(2798.25,1840.75) scale(0.5512,0.5565) skewX(-15)" font-family="'Liberation Sans', sans-serif" font-weight="bold" font-size="100" fill="#ffffff" stroke="#ffffff" stroke-width="16" stroke-linejoin="miter" stroke-miterlimit="2.2" word-spacing="-6" letter-spacing="13">ESN</text>
<text transform="translate(3570.13,1951.99) scale(0.5306,0.5765) skewX(-15)" font-family="'Liberation Sans', sans-serif" font-weight="bold" font-size="100" fill="#ffffff" stroke="#ffffff" stroke-width="16" stroke-linejoin="miter" stroke-miterlimit="2.2" word-spacing="-6" letter-spacing="13">STAGE</text>
<text transform="translate(1064.19,1526.60) scale(0.6929,0.7494)" font-family="'Liberation Sans', sans-serif" font-weight="bold" font-size="100" fill="#ffffff" stroke="#ffffff" stroke-width="16" stroke-linejoin="miter" stroke-miterlimit="2.2" word-spacing="-6" letter-spacing="13">LEGENDA</text>
<text transform="translate(504.46,1697.40) scale(0.5841,0.5653)" font-family="'Liberation Sans', sans-serif" font-weight="bold" font-size="100" fill="#f7f5e9" stroke="#f7f5e9" stroke-width="5" stroke-linejoin="round" letter-spacing="2">Foodcourt</text>
<text transform="translate(504.48,1863.05) scale(0.5798,0.5493)" font-family="'Liberation Sans', sans-serif" font-weight="bold" font-size="100" fill="#ffffff" stroke="#ffffff" stroke-width="5" stroke-linejoin="round" letter-spacing="2">Bar</text>
<text transform="translate(516.27,2046.74) scale(0.5817,0.5547)" font-family="'Liberation Sans', sans-serif" font-weight="bold" font-size="100" fill="#ffffff" stroke="#ffffff" stroke-width="5" stroke-linejoin="round" letter-spacing="2">Emergency exit</text>
<text transform="translate(1256.19,1696.25) scale(0.5923,0.5493)" font-family="'Liberation Sans', sans-serif" font-weight="bold" font-size="100" fill="#ffffff" stroke="#ffffff" stroke-width="5" stroke-linejoin="round" letter-spacing="2">Toilets</text>
<text transform="translate(1254.54,1861.15) scale(0.6179,0.5507)" font-family="'Liberation Sans', sans-serif" font-weight="bold" font-size="100" fill="#ebebe6" stroke="#ebebe6" stroke-width="5" stroke-linejoin="round" letter-spacing="2">Volleyball</text>
<text transform="translate(1255.07,2050.60) scale(0.5716,0.5653)" font-family="'Liberation Sans', sans-serif" font-weight="bold" font-size="100" fill="#ffffff" stroke="#ffffff" stroke-width="5" stroke-linejoin="round" letter-spacing="2">Tennis</text>
<text transform="translate(1800.38,1707.14) scale(0.5550,0.5520)" font-family="'Liberation Sans', sans-serif" font-weight="bold" font-size="100" fill="#ffffff" stroke="#ffffff" stroke-width="5" stroke-linejoin="round" letter-spacing="2">EHBO</text>
<text transform="translate(1799.15,1865.51) scale(0.5877,0.5627)" font-family="'Liberation Sans', sans-serif" font-weight="bold" font-size="100" fill="#ffffff" stroke="#ffffff" stroke-width="5" stroke-linejoin="round" letter-spacing="2">Ice skating</text>
<text transform="translate(3349.87,1488.00) scale(0.0535,0.0667)" font-family="'Liberation Sans', sans-serif" font-weight="normal" font-size="100" fill="#1c1c1c">Lorem ipsum</text>
<text transform="translate(3642.39,1898.40) scale(0.0518,0.0638)" font-family="'Liberation Sans', sans-serif" font-weight="normal" font-size="100" fill="#1c1c1c">Lorem ipsum</text>
</svg>
</body></html>
